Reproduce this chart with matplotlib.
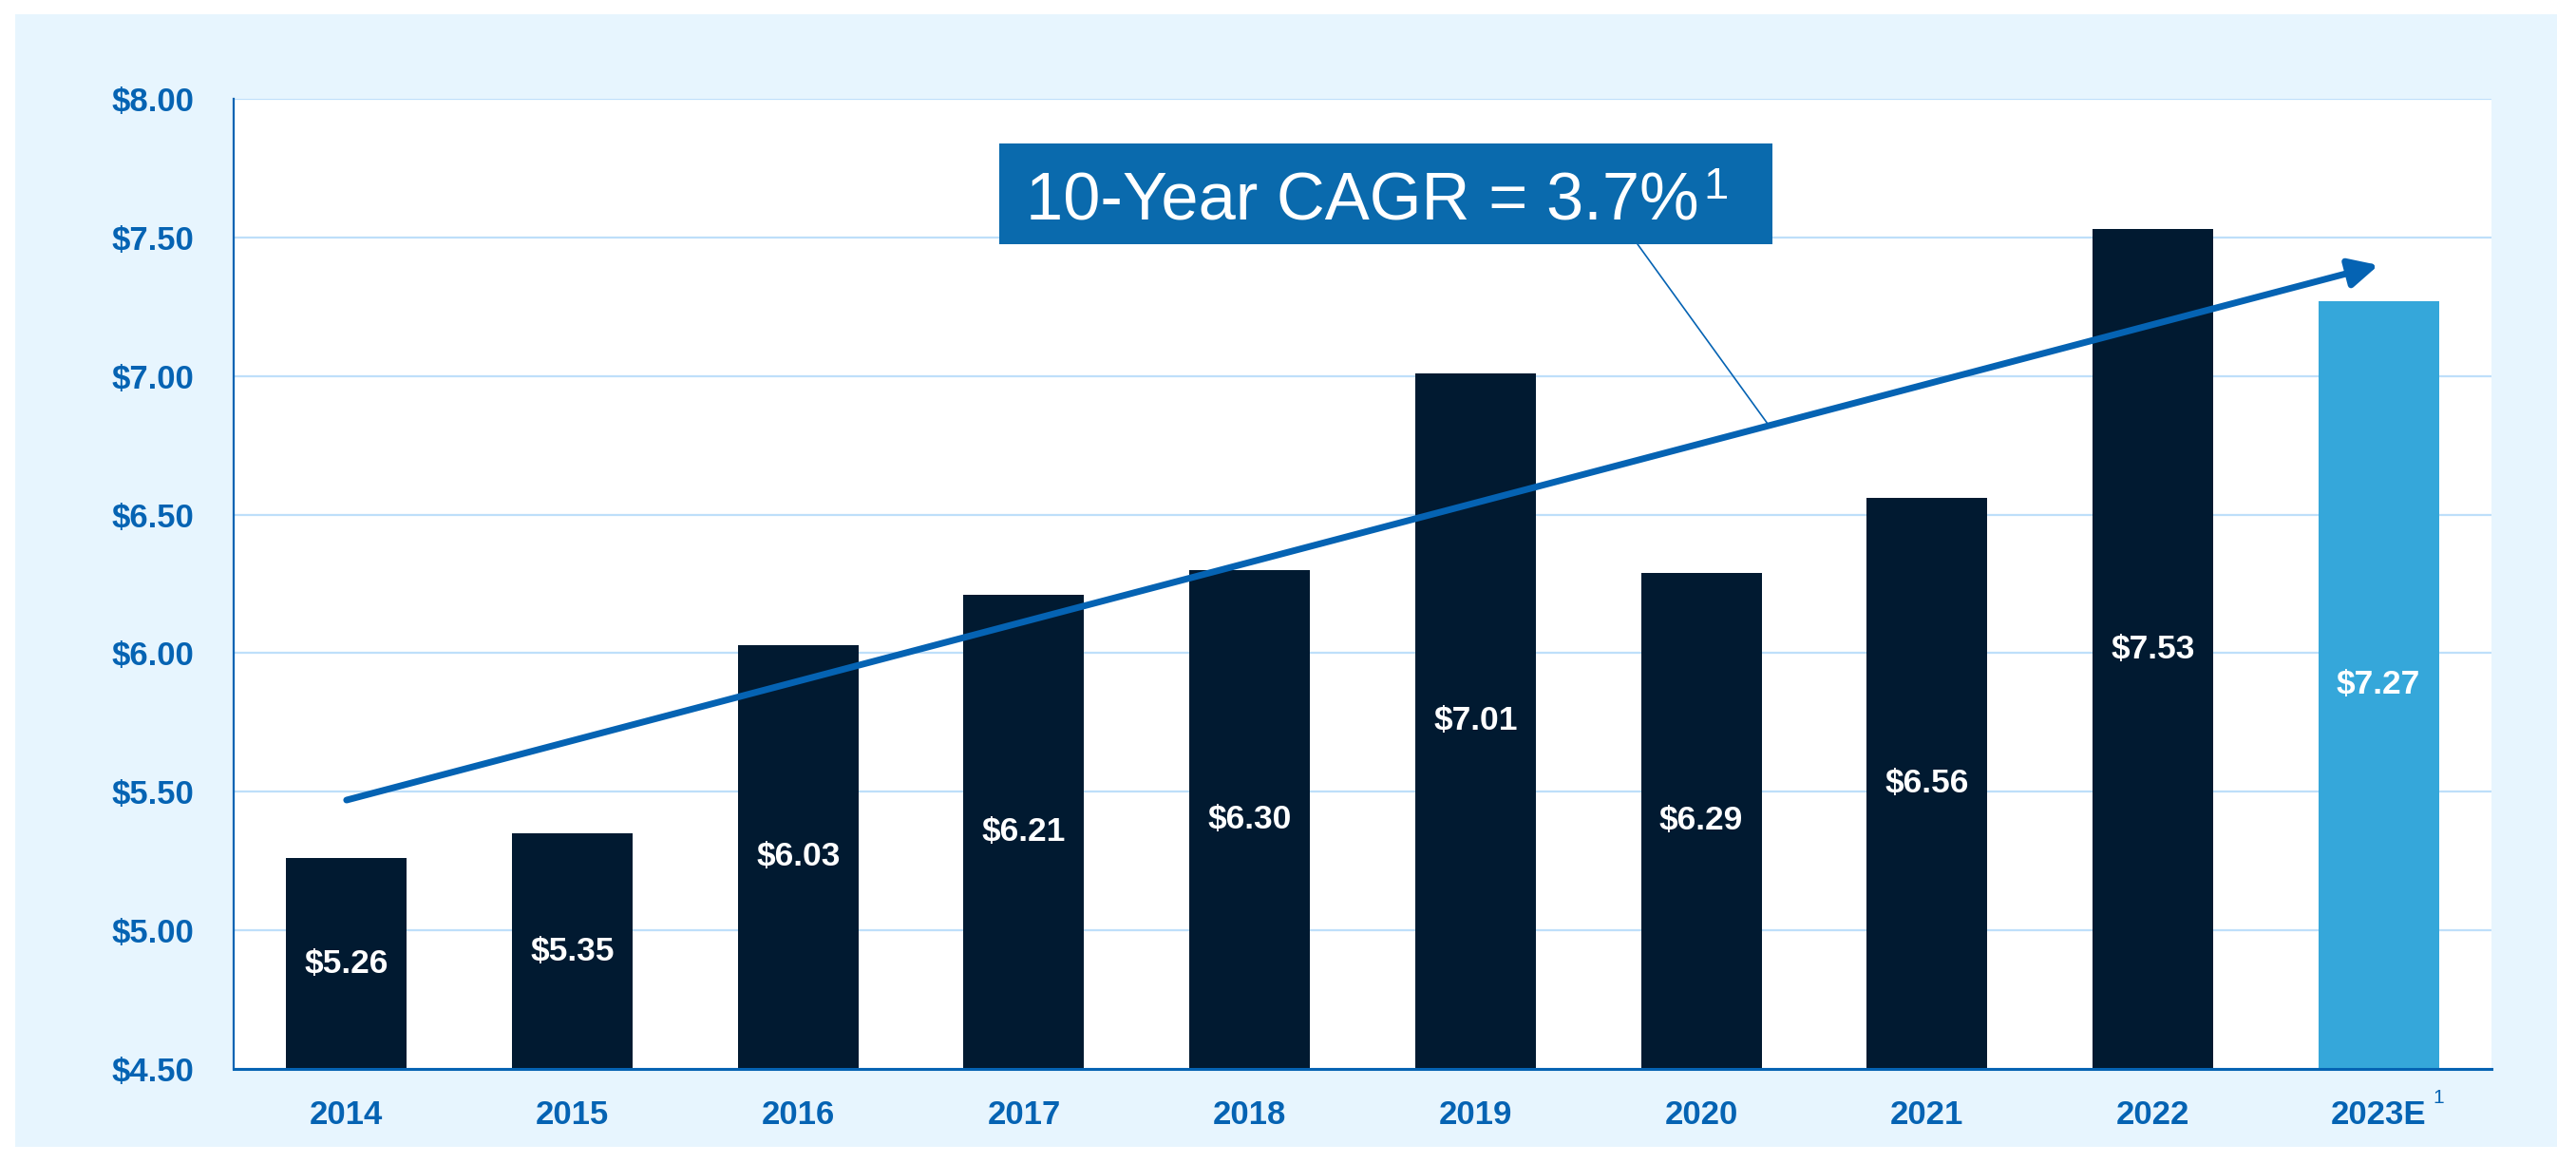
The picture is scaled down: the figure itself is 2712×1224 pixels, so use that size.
#!/usr/bin/env python3
"""
Annual per-share bars, 2014-2023E, with the 10-year CAGR trend arrow.
"""

import matplotlib
matplotlib.use("Agg")
import matplotlib.pyplot as plt
from matplotlib.patches import Rectangle

# ---- data ----
years = ["2014", "2015", "2016", "2017", "2018",
         "2019", "2020", "2021", "2022", "2023E"]
values = [5.26, 5.35, 6.03, 6.21, 6.30, 7.01, 6.29, 6.56, 7.53, 7.27]
y_ticks = [4.50, 5.00, 5.50, 6.00, 6.50, 7.00, 7.50, 8.00]
trend_start = (0, 5.47)   # year index, value
trend_end = (9, 7.40)
cagr_label = "10-Year CAGR = 3.7%"

# ---- styles ----
W, H = 2712, 1224
NAVY = "#011A31"
LIGHT = "#35A7DA"
BLUE = "#0563B3"
BOX = "#0A6AAD"
PANEL = "#E7F5FE"
GRID = "#BEDFFA"

plt.rcParams["font.family"] = ["Liberation Sans", "DejaVu Sans"]


def fx(px):
    return px / W


def fy(py):
    return 1 - py / H


fig = plt.figure(figsize=(W / 100, H / 100), dpi=100, facecolor="white")
fig.patches.append(Rectangle((fx(16), fy(1207)), fx(2692) - fx(16),
                             fy(15) - fy(1207), transform=fig.transFigure,
                             facecolor=PANEL, edgecolor="none", zorder=-10))

ax = fig.add_axes([fx(246), fy(1125), fx(2623) - fx(246), fy(104) - fy(1125)])
ax.set_facecolor("white")

x = list(range(len(years)))
colors = [NAVY] * (len(years) - 1) + [LIGHT]
bars = ax.bar(x, [v - y_ticks[0] for v in values], bottom=y_ticks[0],
              width=0.534, color=colors, edgecolor="none", zorder=2)

for xi, v in zip(x, values):
    ax.text(xi, (v + y_ticks[0]) / 2, f"${v:.2f}", color="white",
            fontsize=25.5, fontweight="bold", ha="center", va="center",
            zorder=3)

ax.set_xlim(-0.5, len(years) - 0.5)
ax.set_ylim(y_ticks[0], y_ticks[-1])
ax.set_yticks(y_ticks)
ax.set_yticklabels([f"${t:.2f}" for t in y_ticks])
ax.set_xticks(x)
ax.set_xticklabels(years)
ax.tick_params(axis="y", length=0, pad=30, labelsize=25, labelcolor=BLUE)
ax.tick_params(axis="x", length=0, pad=23, labelsize=25, labelcolor=BLUE)
for lab in ax.get_xticklabels() + ax.get_yticklabels():
    lab.set_fontweight("bold")

ax.grid(axis="y", color=GRID, lw=1.6, zorder=1)
ax.set_axisbelow(True)
for s in ["top", "right"]:
    ax.spines[s].set_visible(False)
ax.spines["left"].set_color(BLUE)
ax.spines["left"].set_linewidth(1.6)
ax.spines["bottom"].set_color(BLUE)
ax.spines["bottom"].set_linewidth(2.2)
ax.spines["bottom"].set_zorder(4)

# superscript footnote marker on 2023E
fig.text(fx(2561), fy(1161), "1", color=BLUE, fontsize=15,
         ha="left", va="baseline")

# trend arrow
ax.annotate("", xy=trend_end, xytext=trend_start,
            arrowprops=dict(arrowstyle="-|>", lw=5, color=BLUE,
                            mutation_scale=46, shrinkA=0, shrinkB=0),
            zorder=5)

# leader line from callout box to the arrow
lead_x = 6.3
lead_y = trend_start[1] + (trend_end[1] - trend_start[1]) * lead_x / trend_end[0]
ax.annotate("", xy=(lead_x, lead_y), xycoords="data",
            xytext=(fx(1724), fy(257)), textcoords="figure fraction",
            arrowprops=dict(arrowstyle="-", lw=1.2, color=BLUE,
                            shrinkA=0, shrinkB=0), zorder=5)

# callout box
fig.patches.append(Rectangle((fx(1052), fy(257)), fx(1866) - fx(1052),
                             fy(151) - fy(257), transform=fig.transFigure,
                             facecolor=BOX, edgecolor="none", zorder=6))
fig.text(fx(1080), fy(231), cagr_label, color="white", fontsize=50.8,
         ha="left", va="baseline", zorder=7)
fig.text(fx(1793), fy(209), "1", color="white", fontsize=34,
         ha="left", va="baseline", zorder=7)

fig.savefig("out.png", dpi=100, facecolor=fig.get_facecolor())
